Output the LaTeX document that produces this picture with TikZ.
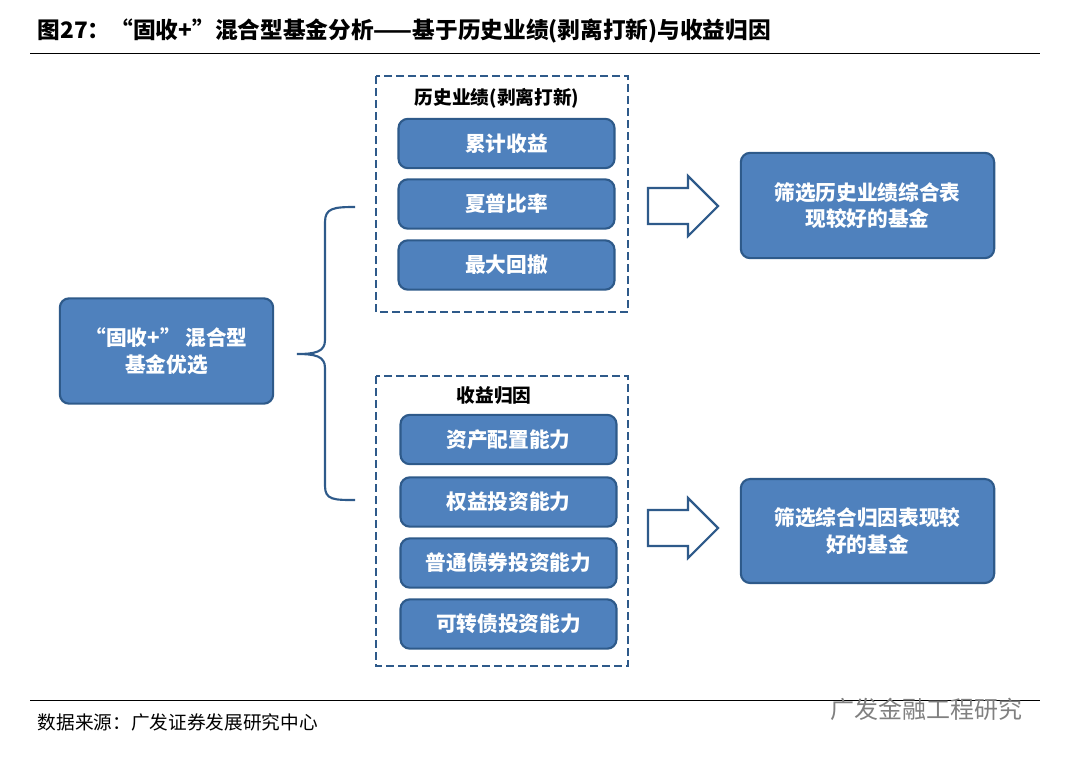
\documentclass[tikz,border=0pt]{standalone}
\usepackage{fontspec}
\setmainfont{Noto Sans CJK SC}
\newfontfamily\cjk{Noto Sans CJK SC}
\definecolor{boxfill}{HTML}{4F81BD}
\definecolor{boxline}{HTML}{2E5A8A}
\definecolor{dashc}{HTML}{2E5A8A}
\tikzset{
 px/.style={x=0.75pt,y=-0.75pt},
 bluebox/.style={fill=boxfill,draw=boxline,line width=1.6pt,rounded corners=7pt,text=white,font=\cjk\bfseries\fontsize{15.5}{20}\selectfont,align=center},
 dbox/.style={draw=dashc,line width=1.8pt,dash pattern=on 6pt off 3pt},
 grouptitle/.style={font=\cjk\bfseries\fontsize{14}{17}\selectfont,text=black},
 openarrow/.style={draw=boxline,fill=white,line width=1.6pt,line join=miter}
}
\begin{document}
\begin{tikzpicture}[px]
\useasboundingbox (0,0) rectangle (1080,757);
\node[anchor=west,font=\cjk\bfseries\fontsize{17}{20}\selectfont] (title) at (33,31) {图27：“固收+”混合型基金分析——基于历史业绩(剥离打新)与收益归因};
\draw[line width=0.6pt] (30,53) coordinate (t1) -- (1040,53) coordinate (t2);
\draw[line width=0.6pt] (30,700) coordinate (b1) -- (1040,700) coordinate (b2);
\node[anchor=west,font=\cjk\fontsize{14}{17}\selectfont] (src) at (33,722) {数据来源：广发证券发展研究中心};
\node[anchor=west,font=\cjk\fontsize{18}{21}\selectfont,text=gray] (wm) at (826,709) {广发金融工程研究};

\node[bluebox,minimum width=160pt,minimum height=79pt] (left) at (166.5,351) {“固收+” 混合型\\基金优选};
\draw[boxline,line width=1.6pt] (355,207) coordinate (br1) .. controls (334,207) and (325,208) .. (325,222) -- (325,340) .. controls (325,352) and (315,354) .. (297,354) coordinate (brm) .. controls (315,354) and (325,356) .. (325,368) -- (325,486) .. controls (325,500) and (334,500) .. (355,500) coordinate (br2);

\draw[dbox] (376,76) rectangle (628,312);
\node[grouptitle] (g1) at (497,98) {历史业绩(剥离打新)};
\node[bluebox,minimum width=162pt,minimum height=37pt] (a1) at (506.5,143.5) {累计收益};
\node[bluebox,minimum width=162pt,minimum height=37pt] (a2) at (506.5,204) {夏普比率};
\node[bluebox,minimum width=162pt,minimum height=37pt] (a3) at (506.5,265) {最大回撤};

\draw[dbox] (376,376) rectangle (628,666);
\node[grouptitle] (g2) at (494,396) {收益归因};
\node[bluebox,minimum width=162pt,minimum height=37pt] (c1) at (508.5,439.5) {资产配置能力};
\node[bluebox,minimum width=162pt,minimum height=37pt] (c2) at (508.5,502) {权益投资能力};
\node[bluebox,minimum width=162pt,minimum height=37pt] (c3) at (508.5,563) {普通债券投资能力};
\node[bluebox,minimum width=162pt,minimum height=37pt] (c4) at (508.5,624) {可转债投资能力};

\draw[openarrow] (648,188) coordinate (ar1) -- (688,188) -- (688,176) -- (718,206) -- (688,236) -- (688,224) -- (648,224) -- cycle;
\draw[openarrow] (648,510) coordinate (ar2) -- (688,510) -- (688,498) -- (718,528) -- (688,558) -- (688,546) -- (648,546) -- cycle;

\node[bluebox,minimum width=190pt,minimum height=79pt] (r1) at (867.5,205.5) {筛选历史业绩综合表\\现较好的基金};
\node[bluebox,minimum width=190pt,minimum height=78pt] (r2) at (867.5,531) {筛选综合归因表现较\\好的基金};
\end{tikzpicture}
\end{document}
